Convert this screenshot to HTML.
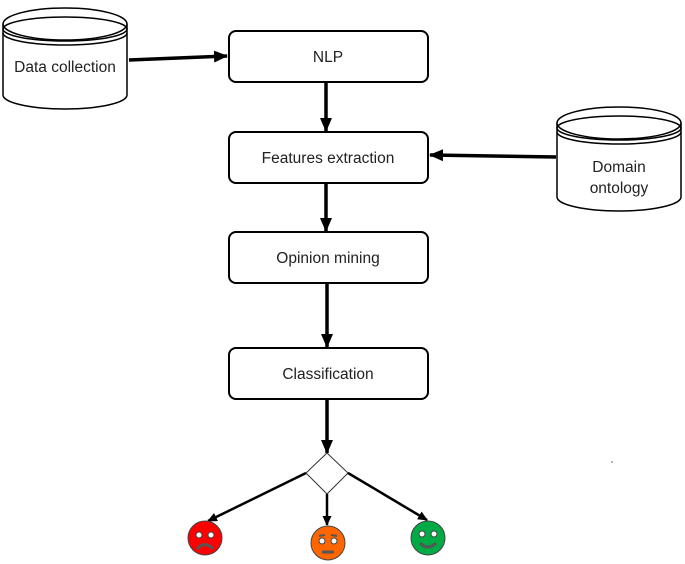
<!DOCTYPE html>
<html><head><meta charset="utf-8"><style>
html,body{margin:0;padding:0;background:#fff;}
svg{display:block;}
text{font-family:"Liberation Sans",sans-serif;font-size:15.5px;fill:#222;}
</style></head><body>
<svg width="685" height="564" viewBox="0 0 685 564" xmlns="http://www.w3.org/2000/svg">
<defs>
<marker id="a" markerWidth="10" markerHeight="9" refX="9" refY="4.5" orient="auto" markerUnits="userSpaceOnUse"><path d="M0,0 L10,4.5 L0,9z" fill="#000"/></marker>
<marker id="b" markerWidth="14" markerHeight="12" refX="13" refY="6" orient="auto" markerUnits="userSpaceOnUse"><path d="M0,0 L14,6 L0,12z" fill="#000"/></marker>
</defs>
<g fill="#fff" stroke="#000" stroke-width="1.5">
<path d="M3,24 L3,95 A62,14 0 0 0 127,95 L127,24"/>
<ellipse cx="65" cy="24" rx="62" ry="16"/>
<path d="M3,29 A62,12 0 0 1 127,29" fill="none"/>
<path d="M3,29 A62,12 0 0 0 127,29" fill="none"/>
<path d="M3,33 A62,12 0 0 0 127,33" fill="none"/>
<path d="M557,123 L557,197 A62,14 0 0 0 681,197 L681,123"/>
<ellipse cx="619" cy="123" rx="62" ry="16"/>
<path d="M557,128 A62,12 0 0 1 681,128" fill="none"/>
<path d="M557,128 A62,12 0 0 0 681,128" fill="none"/>
<path d="M557,132 A62,12 0 0 0 681,132" fill="none"/>
</g>
<g fill="#fff" stroke="#000" stroke-width="2">
<rect x="229" y="31" width="199" height="51" rx="7"/>
<rect x="229" y="132" width="199" height="51" rx="7"/>
<rect x="229" y="232" width="199" height="51" rx="7"/>
<rect x="229" y="348" width="199" height="51" rx="7"/>
</g>
<text x="65" y="72" text-anchor="middle">Data collection</text>
<text x="619" y="172" text-anchor="middle">Domain</text>
<text x="619" y="193" text-anchor="middle">ontology</text>
<text x="328" y="62" text-anchor="middle">NLP</text>
<text x="328" y="163" text-anchor="middle">Features extraction</text>
<text x="328" y="263" text-anchor="middle">Opinion mining</text>
<text x="328" y="379" text-anchor="middle">Classification</text>
<g stroke="#000" stroke-width="3.5" fill="none">
<line x1="129" y1="60" x2="227" y2="56" marker-end="url(#b)"/>
<line x1="326" y1="83" x2="326" y2="131" marker-end="url(#b)"/>
<line x1="556" y1="157" x2="430" y2="155" marker-end="url(#b)"/>
<line x1="326" y1="184" x2="326" y2="231" marker-end="url(#b)"/>
<line x1="327" y1="284" x2="327" y2="347" marker-end="url(#b)"/>
<line x1="327" y1="400" x2="327" y2="453" marker-end="url(#b)"/>
</g>
<path d="M327,453 L348,473 L327,494 L306,473z" fill="#fff" stroke="#333" stroke-width="1"/>
<g stroke="#000" stroke-width="2.5" fill="none">
<line x1="306" y1="473" x2="208" y2="521" marker-end="url(#a)"/>
<line x1="327" y1="494" x2="327" y2="525" marker-end="url(#a)"/>
<line x1="348" y1="473" x2="427" y2="520" marker-end="url(#a)"/>
</g>
<g stroke="#444" stroke-width="1">
<circle cx="205" cy="538" r="17" fill="#f00"/>
<circle cx="328" cy="543" r="17" fill="#f60"/>
<circle cx="428" cy="538" r="17" fill="#0a4"/>
</g>
<g fill="#fff" stroke="#444" stroke-width="1">
<circle cx="199" cy="535" r="3"/><circle cx="211" cy="535" r="3"/>
<circle cx="322" cy="541" r="3"/><circle cx="334" cy="541" r="3"/>
<circle cx="422" cy="534" r="3"/><circle cx="434" cy="534" r="3"/>
</g>
<path d="M197,549 Q205,540 213,549" stroke="#555" stroke-width="3" fill="none"/>
<line x1="322" y1="552" x2="334" y2="552" stroke="#555" stroke-width="3"/>
<path d="M319,536 L325,535 M331,535 L337,536" stroke="#555" stroke-width="2"/>
<path d="M420,543 Q428,551 436,543" stroke="#555" stroke-width="3" fill="none"/>
<circle cx="612" cy="462" r="0.8" fill="#555"/>
</svg>
</body></html>
